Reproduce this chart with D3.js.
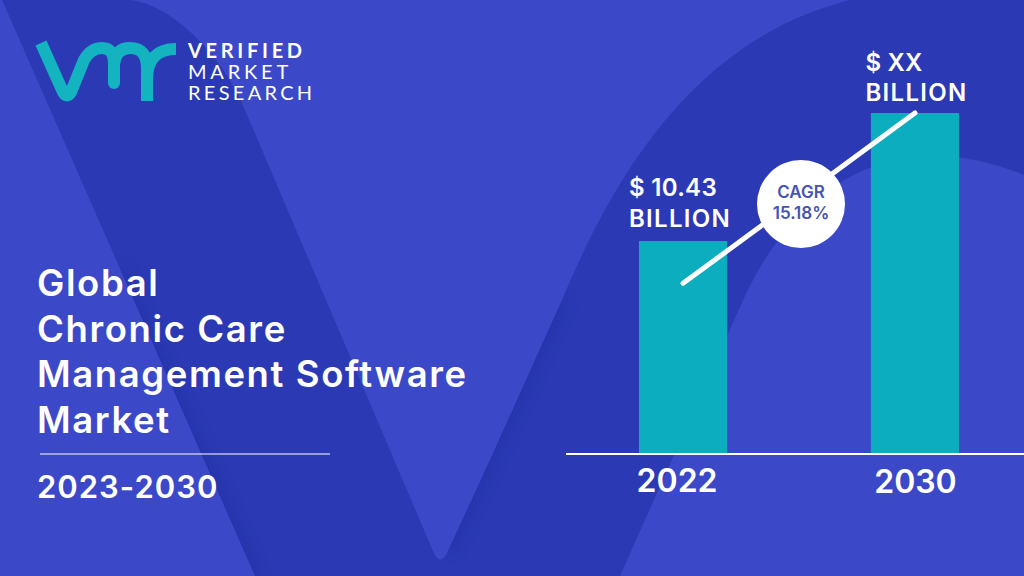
<!DOCTYPE html>
<html><head><meta charset="utf-8">
<script src="https://cdn.jsdelivr.net/npm/d3@7"></script>
<style>html,body{margin:0;padding:0;background:#3b49c8}svg{display:block}text{font-family:Inter,"Noto Sans",sans-serif;fill:#fff}</style>
</head><body><svg id="c" width="1024" height="576"></svg>
<script>
const years = ["2022", "2030"];
const barValues = [10.43, 16.7];
const trendValues = [8.36, 16.7];
const valueLines = [["$ 10.43", "BILLION"], ["$ XX", "BILLION"]];
const titleLines = ["Global", "Chronic Care", "Management Software", "Market"];
const period = "2023-2030";
const cagrLines = ["CAGR", "15.18%"];
const logoLines = ["VERIFIED", "MARKET", "RESEARCH"];

const svg = d3.select("#c");
const LIGHT = "#3b49c8", DARK = "#2b3ab4", TEAL = "#0cadbf", LOGO = "#13b3c0";
const darkShape = "M2,0 L130,0 C175,5 225,60 245,110 L433,551 Q440,568 448,551 L490,460 L562,300 C610,185 690,40 850,0 " +
  "L1024,0 L1024,175 C890,120 790,190 740,307 L620,576 L255,576 Z";

const defs = svg.append("defs");
defs.append("clipPath").attr("id", "dk").append("path").attr("d", darkShape);
defs.append("filter").attr("id", "bl").attr("x", "-30%").attr("y", "-30%").attr("width", "160%").attr("height", "160%")
  .append("feGaussianBlur").attr("stdDeviation", 6);

svg.append("rect").attr("width", 1024).attr("height", 576).attr("fill", LIGHT);
svg.append("path").attr("fill", DARK).attr("d", darkShape);
svg.append("g").attr("clip-path", "url(#dk)").append("path")
  .attr("d", "M120,270 L255,576 M448,551 L562,300")
  .attr("fill", "none").attr("stroke", "#2231a4").attr("stroke-width", 14).attr("opacity", 0.55).attr("filter", "url(#bl)");

// logo
const logo = svg.append("g").attr("fill", "none").attr("stroke", LOGO).attr("stroke-width", 12);
logo.append("path").attr("d", "M41,43 L63,92 Q67,99 71,92 L84,60 Q91,48 102,48 Q114,48 114,64 L114,82");
logo.append("path").attr("stroke-linecap", "round").attr("d", "M114,80 L114,83");
logo.append("path").attr("d", "M114,64 Q116,48 130,48 Q147,48 147,68 L147,101");
logo.append("path").attr("d", "M147,80 Q147,49 176,49");
const logoStyle = [[58, 700, 3.7], [79, 400, 3.8], [100, 400, 3.3]];
svg.selectAll(".logo").data(logoLines).join("text").attr("class", "logo")
  .attr("x", 188).attr("y", (d, i) => logoStyle[i][0])
  .attr("font-size", 20).style("font-family", "Lato")
  .attr("font-weight", (d, i) => logoStyle[i][1]).attr("letter-spacing", (d, i) => logoStyle[i][2])
  .text(d => d);

// title
const titleY = [296, 341.5, 387, 433];
svg.selectAll(".title").data(titleLines).join("text").attr("class", "title")
  .attr("x", 37).attr("y", (d, i) => titleY[i])
  .attr("font-size", 36.5).attr("font-weight", 600).attr("letter-spacing", 1.6)
  .text(d => d);
svg.append("line").attr("x1", 40).attr("x2", 330).attr("y1", 454).attr("y2", 454).attr("stroke", "#fff").attr("stroke-width", 1.2);
svg.append("text").attr("x", 37).attr("y", 497.5).attr("font-size", 31).attr("font-weight", 600).attr("letter-spacing", 1).text(period);

// chart
const x = d3.scaleBand().domain(years).range([639, 959]).paddingInner(0.62).paddingOuter(0);
const y = d3.scaleLinear().domain([0, 16.7]).range([454, 113]);

svg.selectAll(".bar").data(barValues).join("rect").attr("class", "bar")
  .attr("x", (d, i) => x(years[i])).attr("width", x.bandwidth())
  .attr("y", d => y(d)).attr("height", d => y(0) - y(d)).attr("fill", TEAL);

const axis = svg.append("g").attr("transform", "translate(0,454)")
  .call(d3.axisBottom(x).tickSize(0).tickPadding(0));
axis.select(".domain").remove();
axis.append("line").attr("x1", 566).attr("x2", 1024).attr("stroke", "#fff").attr("stroke-width", 2);
axis.selectAll(".tick text").attr("font-size", 32).attr("font-weight", 600)
  .attr("font-family", null).style("font-family", "Inter")
  .attr("fill", "#fff").attr("dy", null)
  .attr("y", (d, i) => [38, 39][i]).attr("x", (d, i) => [-6, 0.5][i]);

const trend = d3.line().x((d, i) => x(years[i]) + x.bandwidth() / 2).y(d => y(d));
svg.append("path").attr("d", trend(trendValues)).attr("fill", "none").attr("stroke", "#fff").attr("stroke-width", 5).attr("stroke-linecap", "round");
svg.append("circle").attr("cx", 801).attr("cy", 204).attr("r", 44).attr("fill", "#fff");
svg.selectAll(".cagr").data(cagrLines).join("text").attr("class", "cagr")
  .attr("x", 801).attr("y", (d, i) => [198, 219][i]).attr("text-anchor", "middle")
  .attr("font-size", 17).attr("font-weight", 600).style("fill", "#4553b5").text(d => d);

const labelX = [629, 865.5], labelY = [[196, 227], [71, 101]];
const labelSpacing = [[0.3, 1.3], [0.2, 1.3]];
valueLines.forEach((lines, i) => {
  svg.selectAll(".v" + i).data(lines).join("text").attr("class", "v" + i)
    .attr("x", labelX[i]).attr("y", (d, j) => labelY[i][j])
    .attr("font-size", 24).attr("font-weight", 600).attr("letter-spacing", (d, j) => labelSpacing[i][j]).text(d => d);
});
</script></body></html>
